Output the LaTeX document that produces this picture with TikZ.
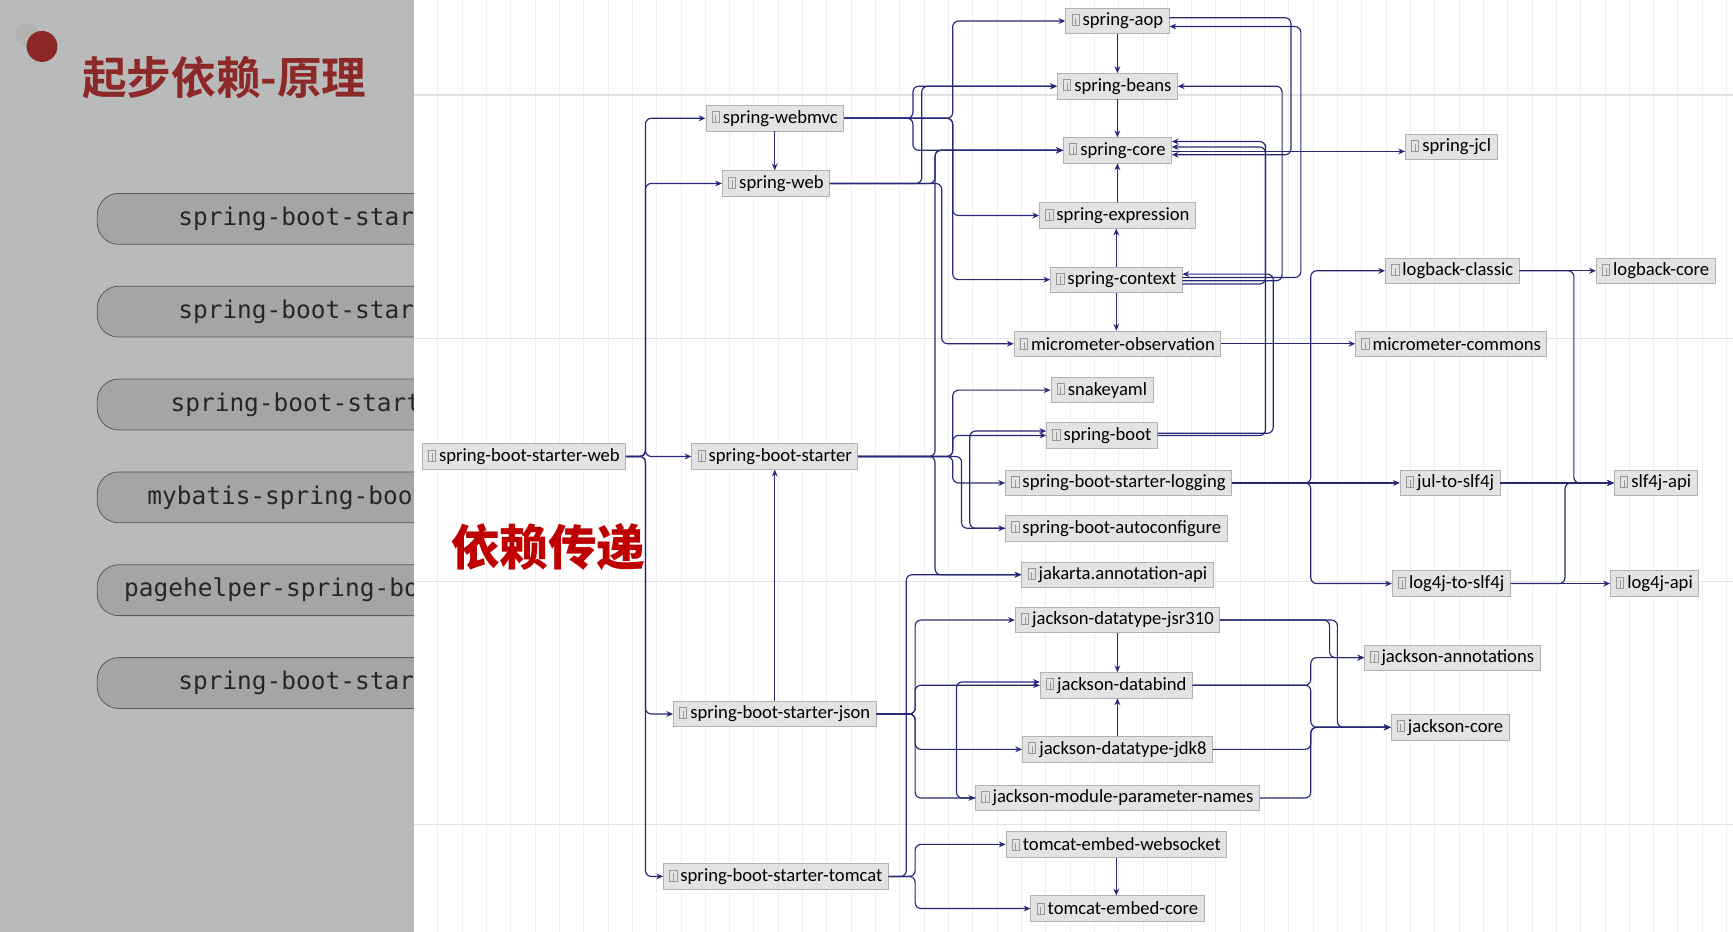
\documentclass[tikz,border=0pt]{standalone}
\usepackage{fontspec}
\setmainfont{Carlito}
\newfontfamily\cjk{Noto Sans CJK SC Bold}
\newfontfamily\cjkb{Noto Sans CJK SC Black}
\newfontfamily\mono{DejaVu Sans Mono}
\usetikzlibrary{arrows.meta,calc}
\definecolor{panel}{RGB}{185,186,186}
\definecolor{pill}{RGB}{164,165,165}
\definecolor{titlered}{RGB}{140,40,40}
\definecolor{edge}{RGB}{40,40,120}
\newcommand{\ico}{\tikz[baseline=-0.6ex,x=1cm,y=1cm]\draw[gray!80,line width=0.4pt] (0,-0.09) rectangle (0.13,0.11) (0.065,-0.09) -- (0.065,0.05);\,}
\tikzset{
  dep/.style={draw=edge, line width=0.6pt, rounded corners=3pt, -{Stealth[length=3.5pt,width=3pt]}},
  art/.style={draw=gray!60, fill=gray!22, font=\fontsize{9.6}{11}\selectfont, inner xsep=3pt, inner ysep=0pt, minimum height=23\unit},
  pl/.style={draw=gray!70!black, fill=pill, rounded corners=11pt, line width=0.4pt}
}
\newlength{\unit}\setlength{\unit}{0.02cm}
\begin{document}
\begin{tikzpicture}[x=0.02cm, y=-0.02cm]
\useasboundingbox (0,0) rectangle (1568,843);

% Left panel
\fill[panel] (0,0) rectangle (375,843);
\fill[gray!60] (25,32) circle (11);
\fill[titlered] (38,42) circle (14);
\node[anchor=west, text=titlered, font=\cjk\fontsize{23}{25}\selectfont] (title) at (68,70) {起步依赖-原理};
\begin{scope}
\clip (0,0) rectangle (375,843);
\foreach \y/\t/\xt in {198/spring-boot-starter-web/161, 282/spring-boot-starter-aop/161, 366/spring-boot-starter-test/154, 450/mybatis-spring-boot-starter/133, 534/pagehelper-spring-boot-starter/112, 618/spring-boot-starter-web/161}{
  \draw[pl] (88,\y-23) rectangle (500,\y+23);
  \node[anchor=west, font=\mono\fontsize{12.6}{15}\selectfont, text=black!85, inner sep=0] at (\xt,\y) {\t};
}
\end{scope}

% Right panel with grid
\fill[white] (375,0) rectangle (1568,843);
\draw[gray!12, line width=0.3pt, step=22] (375,0) grid (1568,843);
\foreach \y in {86,306,526,746} \draw[gray!22, line width=0.6pt] (375,\y) -- (1568,\y);

% Artifacts
\node[art] (starterweb) at (474,413) {\ico spring-boot-starter-web};
\node[art] (webmvc) at (701,107) {\ico spring-webmvc};
\node[art] (web) at (702,166) {\ico spring-web};
\node[art] (starter) at (701,413) {\ico spring-boot-starter};
\node[art] (json) at (701,646) {\ico spring-boot-starter-json};
\node[art] (tomcat) at (702,793) {\ico spring-boot-starter-tomcat};
\node[art] (aop) at (1011,19) {\ico spring-aop};
\node[art] (beans) at (1011,78) {\ico spring-beans};
\node[art] (core) at (1011,136) {\ico spring-core};
\node[art] (expr) at (1011,195) {\ico spring-expression};
\node[art] (context) at (1010,253) {\ico spring-context};
\node[art] (mobs) at (1011,311) {\ico micrometer-observation};
\node[art] (snake) at (997,353) {\ico snakeyaml};
\node[art] (boot) at (997,394) {\ico spring-boot};
\node[art] (logging) at (1012,437) {\ico spring-boot-starter-logging};
\node[art] (auto) at (1010,478) {\ico spring-boot-autoconfigure};
\node[art] (jakarta) at (1011,520) {\ico jakarta.annotation-api};
\node[art] (jsr) at (1011,561) {\ico jackson-datatype-jsr310};
\node[art] (databind) at (1010,620) {\ico jackson-databind};
\node[art] (jdk) at (1011,678) {\ico jackson-datatype-jdk8};
\node[art] (module) at (1011,722) {\ico jackson-module-parameter-names};
\node[art] (websocket) at (1010,764) {\ico tomcat-embed-websocket};
\node[art] (tcore) at (1011,822) {\ico tomcat-embed-core};
\node[art] (jcl) at (1313,133) {\ico spring-jcl};
\node[art] (lbclassic) at (1314,245) {\ico logback-classic};
\node[art] (lbcore) at (1498,245) {\ico logback-core};
\node[art] (mcommons) at (1313,311) {\ico micrometer-commons};
\node[art] (jul) at (1312,437) {\ico jul-to-slf4j};
\node[art] (slf) at (1498,437) {\ico slf4j-api};
\node[art] (lfj) at (1313,528) {\ico log4j-to-slf4j};
\node[art] (lapi) at (1497,528) {\ico log4j-api};
\node[art] (annot) at (1314,595) {\ico jackson-annotations};
\node[art] (jcore) at (1312,658) {\ico jackson-core};

% Bus lines
\coordinate (bA) at (584,0);
\coordinate (bB) at (826,0);
\coordinate (bC) at (862,0);
\coordinate (bD) at (834,0);
\coordinate (bE) at (846,0);
\coordinate (bF) at (852,0);
\coordinate (bG) at (870,0);
\coordinate (bH) at (828,0);
\coordinate (bI) at (820,0);
\coordinate (bL) at (1186,0);
\coordinate (bM) at (1424,0);
\coordinate (bN) at (1416,0);
\coordinate (bP) at (1203,0);
\coordinate (bQ) at (1210,0);
\coordinate (r1) at (1145,0);
\coordinate (r2) at (1160,0);
\coordinate (r3) at (1177,0);
\coordinate (r4) at (1168,0);
\coordinate (r5) at (1152,0);

% spring-boot-starter-web
\foreach \t in {webmvc,web,starter,json,tomcat}
  \draw[dep] (starterweb.east) -- (starterweb.east -| bA) |- (\t.west);

% spring-webmvc / spring-web
\draw[dep] (webmvc.south) -- (webmvc.south |- web.north);
\foreach \t in {aop,expr,context}
  \draw[dep] (webmvc.east) -- (webmvc.east -| bC) |- (\t.west);
\foreach \t in {beans,core}
  \draw[dep] (webmvc.east) -- (webmvc.east -| bB) |- (\t.west);
\draw[dep] (web.east) -- (web.east -| bD) |- (beans.west);
\draw[dep] (web.east) -- (web.east -| bE) |- (core.west);
\draw[dep] (web.east) -- (web.east -| bF) |- (mobs.west);

% spring core family
\draw[dep] (aop.south) -- (aop.south |- beans.north);
\draw[dep] (beans.south) -- (beans.south |- core.north);
\draw[dep] (expr.north) -- (expr.north |- core.south);
\draw[dep] (context.north) -- (context.north |- expr.south);
\draw[dep] (context.south) -- (context.south |- mobs.north);
\draw[dep] ([yshift=-4\unit]context.east) -- ([yshift=-4\unit]context.east -| r1) |- ([yshift=3\unit]core.east);
\draw[dep] ([yshift=-1\unit]context.east) -- ([yshift=-1\unit]context.east -| r2) |- (beans.east);
\draw[dep] ([yshift=2\unit]context.east) -- ([yshift=2\unit]context.east -| r3) |- ([yshift=-5\unit]aop.east);
\draw[dep] ([yshift=3\unit]aop.east) -- ([yshift=3\unit]aop.east -| r4) |- ([yshift=-4\unit]core.east);
\draw[dep] ([yshift=-1\unit]core.east) -- ([yshift=-1\unit]core.east -| jcl.west);
\draw[dep] (boot.east) -- (boot.east -| r1) -- ([xshift=0\unit]r1 |- core.east) |- ([yshift=8\unit]core.east);
\draw[dep] ([yshift=2\unit]boot.east) -- ([yshift=2\unit]boot.east -| r5) |- ([yshift=5\unit]context.east);
\draw[dep] (mobs.east) -- (mobs.east -| mcommons.west);

% spring-boot-starter
\foreach \t in {snake,boot,logging}
  \draw[dep] (starter.east) -- (starter.east -| bC) |- (\t.west);
\foreach \t in {core,jakarta}
  \draw[dep] (starter.east) -- (starter.east -| bE) |- (\t.west);
\draw[dep] (starter.east) -- (starter.east -| bG) |- (auto.west);
\draw[dep] (auto.west) -- ++(-32\unit,0) |- ([yshift=4\unit]boot.west);

% logging
\draw[dep] (logging.east) -- (logging.east -| jul.west);
\foreach \t in {lbclassic,lfj}
  \draw[dep] (logging.east) -- (logging.east -| bL) |- (\t.west);
\draw[dep] (lbclassic.east) -- (lbclassic.east -| lbcore.west);
\draw[dep] (lbclassic.east) -- (lbclassic.east -| bM) |- (slf.west);
\draw[dep] (jul.east) -- (jul.east -| slf.west);
\draw[dep] (lfj.east) -- (lfj.east -| lapi.west);
\draw[dep] (lfj.east) -- (lfj.east -| bN) |- (slf.west);

% spring-boot-starter-json
\draw[dep] (json.north) -- (json.north |- starter.south);
\foreach \t in {jsr,databind,jdk,module}
  \draw[dep] (json.east) -- (json.east -| bH) |- (\t.west);
\draw[dep] (jsr.south) -- (jsr.south |- databind.north);
\draw[dep] (jdk.north) -- (jdk.north |- databind.south);
\draw[dep] (jsr.east) -- (jsr.east -| bP) |- (annot.west);
\draw[dep] (jsr.east) -- (jsr.east -| bQ) |- (jcore.west);
\draw[dep] (databind.east) -- (databind.east -| bL) |- (annot.west);
\foreach \s in {databind,jdk,module}
  \draw[dep] (\s.east) -- (\s.east -| bL) |- (jcore.west);
\draw[dep] (module.west) -- ++(-17\unit,0) |- ([yshift=3\unit]databind.west);

% spring-boot-starter-tomcat
\draw[dep] (tomcat.east) -- (tomcat.east -| bI) |- (jakarta.west);
\foreach \t in {websocket,tcore}
  \draw[dep] (tomcat.east) -- (tomcat.east -| bH) |- (\t.west);
\draw[dep] (websocket.south) -- (websocket.south |- tcore.north);

% handwritten note
\node[text=red!75!black, font=\cjkb\fontsize{25}{28}\selectfont] (note) at (496,495) {依赖传递};
\end{tikzpicture}
\end{document}
